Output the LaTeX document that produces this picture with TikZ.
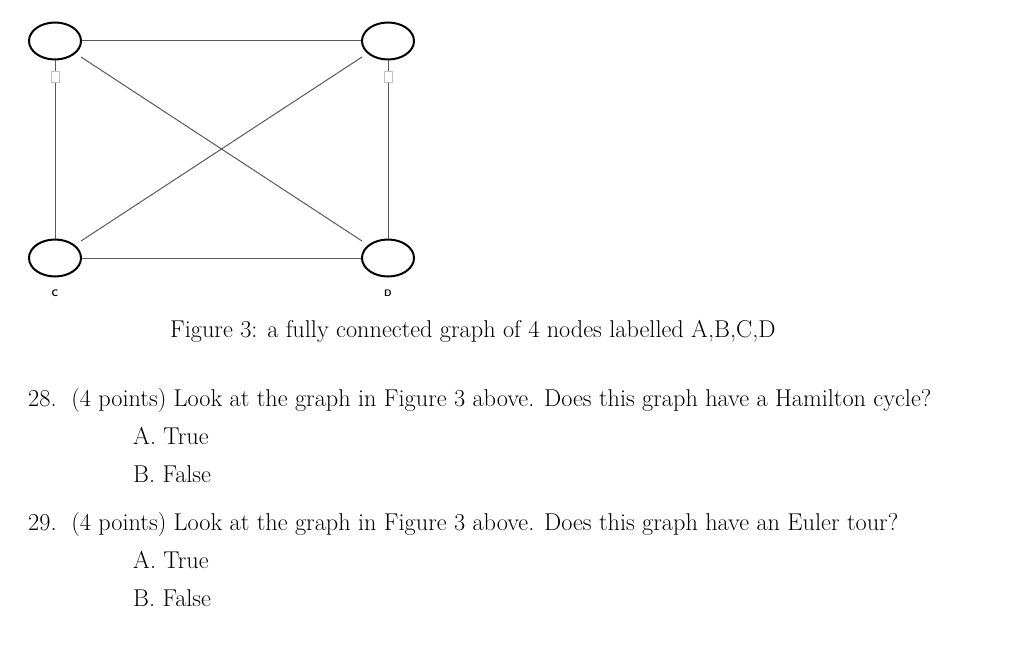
\documentclass[tikz,border=0pt]{standalone}
\usetikzlibrary{shapes.geometric}
\begin{document}
\begin{tikzpicture}[x=1pt,y=-1pt,
  vtx/.style={draw,line width=2pt,ellipse,minimum width=52pt,minimum height=37pt,inner sep=0pt},
  edge/.style={draw=black!65,line width=1pt},
  tag/.style={draw=black!25,fill=white,line width=0.6pt,minimum width=8pt,minimum height=11pt,inner sep=0pt},
  lbl/.style={font=\sffamily\bfseries\fontsize{9.5}{10}\selectfont},
  txt/.style={anchor=base west,inner sep=0pt,font=\fontsize{24.3}{28}\selectfont}]
\useasboundingbox (0,0) rectangle (1024,668);
\node[vtx] (A) at (55,41) {};
\node[vtx] (B) at (388,41) {};
\node[vtx] (C) at (55,258) {};
\node[vtx] (D) at (388,258) {};
\node[tag] (ta) at (55,77) {};
\node[tag] (tb) at (388,77) {};
\draw[edge] (A) -- (B);
\draw[edge] (C) -- (D);
\draw[edge] (A) -- (ta) (ta) -- (C);
\draw[edge] (B) -- (tb) (tb) -- (D);
\coordinate (a1) at (81,57); \coordinate (d1) at (362,241);
\coordinate (b1) at (362,57); \coordinate (c1) at (81,241);
\draw[edge] (a1) -- (d1);
\draw[edge] (b1) -- (c1);
\node[lbl] (lc) at (55,293) {C};
\node[lbl] (ld) at (388,293) {D};
\node[txt] (cap) at (170,337) {Figure 3: a fully connected graph of 4 nodes labelled A,B,C,D};
\node[txt] (q28) at (28,406) {28.\ \ (4 points) Look at the graph in Figure 3 above. Does this graph have a Hamilton cycle?};
\node[txt] (a28) at (133,444) {A.\ True};
\node[txt] (b28) at (133,482) {B.\ False};
\node[txt] (q29) at (28,530) {29.\ \ (4 points) Look at the graph in Figure 3 above. Does this graph have an Euler tour?};
\node[txt] (a29) at (133,568) {A.\ True};
\node[txt] (b29) at (133,606) {B.\ False};
\end{tikzpicture}
\end{document}
